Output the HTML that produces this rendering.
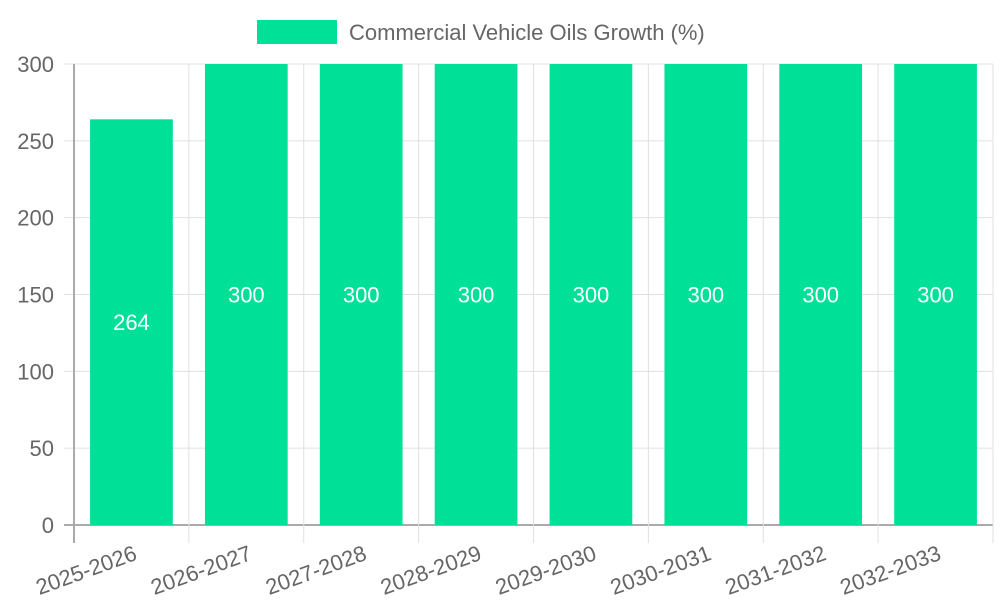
<!DOCTYPE html>
<html><head><meta charset="utf-8"><style>
html,body{margin:0;padding:0;background:#fff;}
svg{display:block;font-family:"Liberation Sans",sans-serif;}
</style></head><body>
<svg id="chart" width="1000" height="600" xmlns="http://www.w3.org/2000/svg">
<g>
<rect x="257" y="20" width="80" height="24" fill="#00E096"/>
<text x="349" y="40" font-size="22" fill="#666">Commercial Vehicle Oils Growth (%)</text>
</g>
<g id="grid"></g><g id="bars"></g><g id="labels"></g>
</svg>
<script>
const categories=["2025-2026","2026-2027","2027-2028","2028-2029","2029-2030","2030-2031","2031-2032","2032-2033"];
const values=[264,300,300,300,300,300,300,300];
const yTicks=[0,50,100,150,200,250,300];
const X0=74,X1=993,Y0=525,Y1=64,YMAX=300;
const ns="http://www.w3.org/2000/svg";
const bw=(X1-X0)/categories.length;
function y(v){return Y0-(v/YMAX)*(Y0-Y1);}
function xc(i){return X0+bw*(i+0.5);}
function mk(t,a,p){const e=document.createElementNS(ns,t);for(const k in a)e.setAttribute(k,a[k]);p.appendChild(e);return e;}
const grid=document.getElementById('grid'),bars=document.getElementById('bars'),labels=document.getElementById('labels');
yTicks.forEach(t=>{
const l=mk('line',{x1:X0-10,x2:X1,y1:y(t),y2:y(t),stroke:t===0?'#aaa':'#e0e0e0','stroke-width':t===0?2:1},grid);


const tx=mk('text',{x:X0-20,y:y(t)+8,'text-anchor':'end','font-size':22,fill:'#666'},grid);
tx.textContent=t;


});
for(let i=0;i<=categories.length;i++){
const x=X0+bw*i;
const l=mk('line',{x1:x,x2:x,y1:Y1,y2:Y0+18,stroke:i===0?'#aaa':'#e0e0e0','stroke-width':i===0?2:1},grid);


}
categories.forEach((c,i)=>{
const w=bw*0.72;
const r=mk('rect',{x:xc(i)-w/2,y:y(values[i]),width:w,height:Y0-y(values[i]),fill:'#00E096'},bars);


const v=mk('text',{x:xc(i),y:(y(values[i])+Y0)/2+8,'text-anchor':'middle','font-size':22,fill:'#fff'},labels);
v.textContent=values[i];


const t=mk('text',{'text-anchor':'end','font-size':22,fill:'#666',transform:`translate(${xc(i)+2},${546}) rotate(-20)`,dy:'14'},labels);
t.textContent=c;


});
</script>
</body></html>
